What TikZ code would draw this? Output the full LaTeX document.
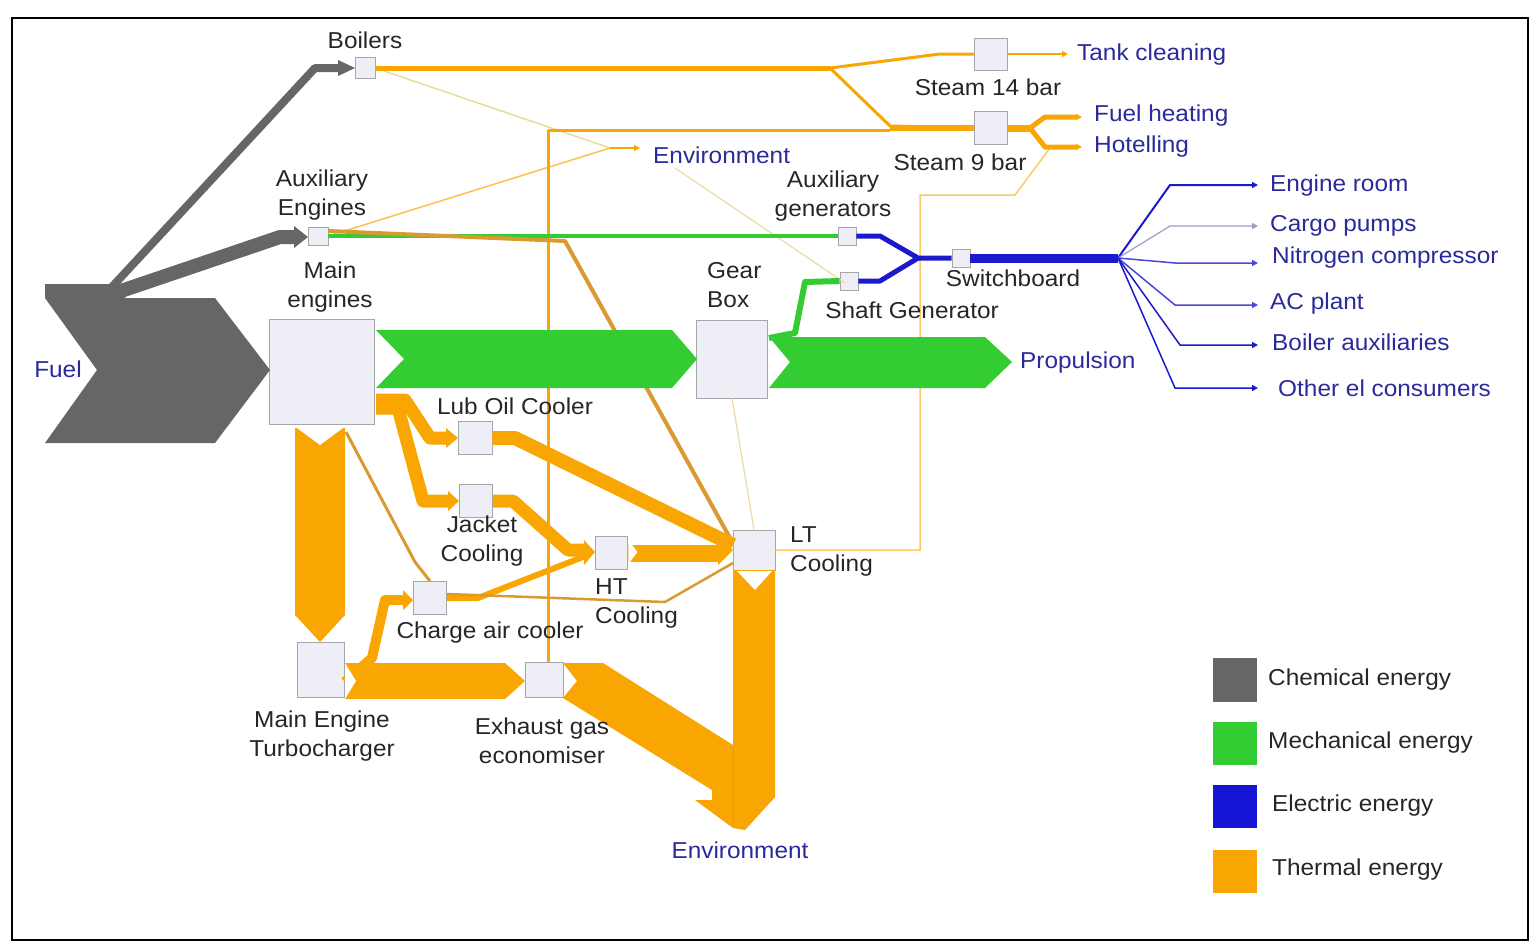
\documentclass[tikz,border=0pt]{standalone}
\usepackage{fontspec}
\setmainfont{Liberation Sans}[FakeStretch=1.06]
\usetikzlibrary{arrows.meta}
\definecolor{og}{HTML}{F9A602}
\definecolor{ogd}{HTML}{D99A30}
\definecolor{ogp}{HTML}{EBD9A0}
\definecolor{gy}{HTML}{666666}
\definecolor{gn}{HTML}{33CC33}
\definecolor{bu}{HTML}{1A1ACC}
\definecolor{lb}{HTML}{2A2A9A}
\definecolor{bx}{HTML}{EEEEF6}
\begin{document}
\begin{tikzpicture}[x=1pt,y=-1pt,
  box/.style={draw=gray!70,fill=bx,line width=0.8pt,inner sep=0pt},
  txt/.style={font=\fontsize{23}{29}\selectfont,text=black!85,align=center,inner sep=0pt},
  btxt/.style={txt,text=lb},
  orf/.style={og,line width=#1,line join=round},
  gnf/.style={gn,line width=#1,line join=round},
  buf/.style={bu,line width=#1,line join=round},
  tip/.style={-{Triangle[length=6pt,width=6pt]}}]
\useasboundingbox (0,0) rectangle (1536,943);
\draw[line width=1.5pt] (12,18) rectangle (1528,940);

% boxes
\node[box,minimum width=20,minimum height=21] (boil) at (365,68) {};
\node[box,minimum width=20,minimum height=18] (aux) at (318,236) {};
\node[box,minimum width=105,minimum height=105] (me) at (322,372) {};
\node[box,minimum width=71,minimum height=78] (gb) at (732,359) {};
\node[box,minimum width=18,minimum height=18] (ag) at (847,236) {};
\node[box,minimum width=18,minimum height=18] (sg) at (849,281) {};
\node[box,minimum width=18,minimum height=18] (sw) at (961,258) {};
\node[box,minimum width=33,minimum height=32] (s14) at (991,54) {};
\node[box,minimum width=33,minimum height=33] (s9) at (991,128) {};
\node[box,minimum width=34,minimum height=33] (loc) at (475,438) {};
\node[box,minimum width=33,minimum height=33] (jc) at (476,501) {};
\node[box,minimum width=32,minimum height=33] (ht) at (611,553) {};
\node[box,minimum width=33,minimum height=33] (cac) at (430,598) {};
\node[box,minimum width=47,minimum height=55] (tc) at (321,670) {};
\node[box,minimum width=38,minimum height=35] (ege) at (544,680) {};
\node[box,minimum width=42,minimum height=40] (lt) at (754,550) {};
\coordinate (envt) at (640,148);

% fuel
\fill[gy] (45,284) -- (125,284) -- (125,298) -- (215,298) -- (270,370) -- (215,443) -- (45,443) -- (97,370) -- (45,298) -- cycle;
\draw[gy,line width=8pt,line join=round] (110,289) -- (315,68) -- (340,68);
\fill[gy] (338,60) -- (355,68) -- (338,76) -- cycle;
\draw[gy,line width=14pt,line join=round] (115,293) -- (280,237) -- (296,237);
\fill[gy] (294,226) -- (308,237) -- (294,248) -- cycle;

% thin environment lines
\draw[ogp,line width=1.5pt] (boil.east) -- (610,148);
\draw[og!70,line width=1.5pt] (aux.east) -- (610,148);
\draw[og,line width=1.5pt,tip] (610,148) -- (envt);
\draw[ogp,line width=1.2pt] (675,168) -- (845,283);
\draw[ogp,line width=1.2pt] (gb.south) -- (lt.north);
\draw[og!60,line width=1.5pt] (lt.east) -- (920,550) -- (920,195) -- (1015,195) -- (1050,148);

% orange steam system
\draw[orf=5pt] (boil.east) -- (830,68);
\draw[orf=3pt] (830,68) -- (940,54) -- (s14.west);
\draw[orf=3pt] (830,68) -- (890,126) -- (s9.west);
\draw[orf=3pt] (ege.north) ++(4,0) -- (548,130) -- (890,130);
\draw[orf=6pt] (890,128) -- (s9.west);
\draw[og,line width=2pt,tip] (s14.east) -- (1068,54);
\draw[orf=7pt] (s9.east) -- (1030,128);
\draw[og,line width=5pt,tip] (1030,128) -- (1045,117) -- (1082,117);
\draw[og,line width=5pt,tip] (1030,128) -- (1045,147) -- (1082,147);

% aux engines outputs
\draw[gnf=4pt] (aux.east) -- (ag.west);
\draw[ogd,line width=4pt,line join=round] ([yshift=5pt]aux.east) -- (565,241) -- (730,538);

% green main flows
\fill[gn] (376,330) -- (672,330) -- (697,359) -- (672,388) -- (376,388) -- (404,359) -- cycle;
\fill[gn] (769,337) -- (985,337) -- (1012,362) -- (985,388) -- (769,388) -- (790,362) -- cycle;
\draw[gnf=6pt] (769,338) -- (795,333) -- (805,282) -- (sg.west);

% electric
\draw[buf=5pt] (ag.east) -- (880,236) -- (918,258) -- (sw.west);
\draw[buf=5pt] (sg.east) -- (880,281) -- (918,258);
\draw[buf=9pt] (sw.east) -- (1118,258);
\draw[bu,line width=2pt,tip] (1118,258) -- (1170,185) -- (1258,185);
\draw[bu!35!gray!60,line width=1.2pt,tip] (1118,258) -- (1170,226) -- (1258,226);
\draw[bu!80,line width=1.5pt,tip] (1118,258) -- (1175,263) -- (1258,263);
\draw[bu!80,line width=1.5pt,tip] (1118,258) -- (1175,305) -- (1258,305);
\draw[bu,line width=1.5pt,tip] (1118,258) -- (1180,345) -- (1258,345);
\draw[bu,line width=1.5pt,tip] (1118,258) -- (1175,388) -- (1258,388);

% main engine thermal
\fill[og] (295,428) -- (345,428) -- (345,615) -- (320,642) -- (295,615) -- cycle;
\fill[white] (297,428) -- (343,428) -- (320,445) -- cycle;
\draw[ogd,line width=3pt,line join=round] (346,432) -- (415,562) -- (cac.north);
\draw[orf=13pt] (376,400) -- (405,400) -- (430,438) -- (448,438);
\fill[og] (446,428) -- (458,438) -- (446,448) -- cycle;
\draw[orf=13pt] (376,408) -- (398,408) -- (423,501) -- (450,501);
\fill[og] (448,491) -- (459,501) -- (448,511) -- cycle;
\draw[orf=14pt] (loc.east) -- (515,438) -- (733,545);
\draw[orf=13pt] (jc.east) -- (513,501) -- (568,550) -- (586,550);
\draw[orf=6pt] (cac.east) -- (478,598) -- (588,555);
\fill[og] (584,540) -- (595,552) -- (584,565) -- cycle;
\draw[orf=17pt] (ht.east) -- (720,553);
\draw[ogd,line width=2.5pt,line join=round] ([yshift=4pt]cac.east) -- (665,602) -- (733,563);
\fill[og] (718,538) -- (733,550) -- (718,565) -- cycle;
\draw[orf=10pt] ([yshift=-12pt]tc.east) -- (372,658) -- (385,600) -- (405,600);
\fill[og] (403,590) -- (413,600) -- (403,610) -- cycle;
\fill[og] (345,663) -- (505,663) -- (525,681) -- (505,699) -- (345,699) -- cycle;
\fill[white] (345,663) -- (356,681) -- (345,699) -- cycle;
% to environment
\fill[og] (563,663) -- (603,663) -- (733,745) -- (733,828) -- (695,800) -- (712,800) -- (712,790) -- (563,698) -- (577,681) -- cycle;
\fill[og] (733,570) -- (775,570) -- (775,797) -- (745,830) -- (733,828) -- cycle;
\fill[white] (737,571) -- (772,571) -- (755,590) -- cycle;
\draw[ogd,line width=1pt] (733,745) -- (733,826);
\fill[white] (ht.north east) ++(1,4) -- ++(9,12) -- ++(-9,12) -- cycle;

% labels
\node[txt] at (365,40) {Boilers};
\node[txt] at (322,195) {Auxiliary\\Engines};
\node[txt] at (330,287) {Main\\engines};
\node[txt,align=left,anchor=west] at (707,285) {Gear\\Box};
\node[txt] at (833,196) {Auxiliary\\generators};
\node[txt] at (912,310) {Shaft Generator};
\node[txt] at (1013,278) {Switchboard};
\node[txt] at (988,87) {Steam 14 bar};
\node[txt] at (960,162) {Steam 9 bar};
\node[txt] at (515,406) {Lub Oil Cooler};
\node[txt] at (482,541) {Jacket\\Cooling};
\node[txt,align=left,anchor=west] at (595,603) {HT\\Cooling};
\node[txt] at (490,633) {Charge air cooler};
\node[txt] at (322,736) {Main Engine\\Turbocharger};
\node[txt] at (542,741) {Exhaust gas\\economiser};
\node[txt,align=left,anchor=west] at (790,551) {LT\\Cooling};
\node[btxt] at (58,369) {Fuel};
\node[btxt,anchor=west] at (653,155) {Environment};
\node[btxt] at (740,850) {Environment};
\node[btxt,anchor=west] at (1020,363) {Propulsion};
\node[btxt,anchor=west] at (1077,55) {Tank cleaning};
\node[btxt,anchor=west] at (1094,116) {Fuel heating};
\node[btxt,anchor=west] at (1094,147) {Hotelling};
\node[btxt,anchor=west] at (1270,186) {Engine room};
\node[btxt,anchor=west] at (1270,226) {Cargo pumps};
\node[btxt,anchor=west] at (1272,258) {Nitrogen compressor};
\node[btxt,anchor=west] at (1270,304) {AC plant};
\node[btxt,anchor=west] at (1272,342) {Boiler auxiliaries};
\node[btxt,anchor=west] at (1278,388) {Other el consumers};

% legend
\fill[gy] (1213,658) rectangle (1257,702);
\fill[gn] (1213,722) rectangle (1257,765);
\fill[bu!80!blue] (1213,785) rectangle (1257,828);
\fill[og] (1213,850) rectangle (1257,893);
\node[txt,anchor=west] at (1268,680) {Chemical energy};
\node[txt,anchor=west] at (1268,743) {Mechanical energy};
\node[txt,anchor=west] at (1272,806) {Electric energy};
\node[txt,anchor=west] at (1272,870) {Thermal energy};
\end{tikzpicture}
\end{document}
